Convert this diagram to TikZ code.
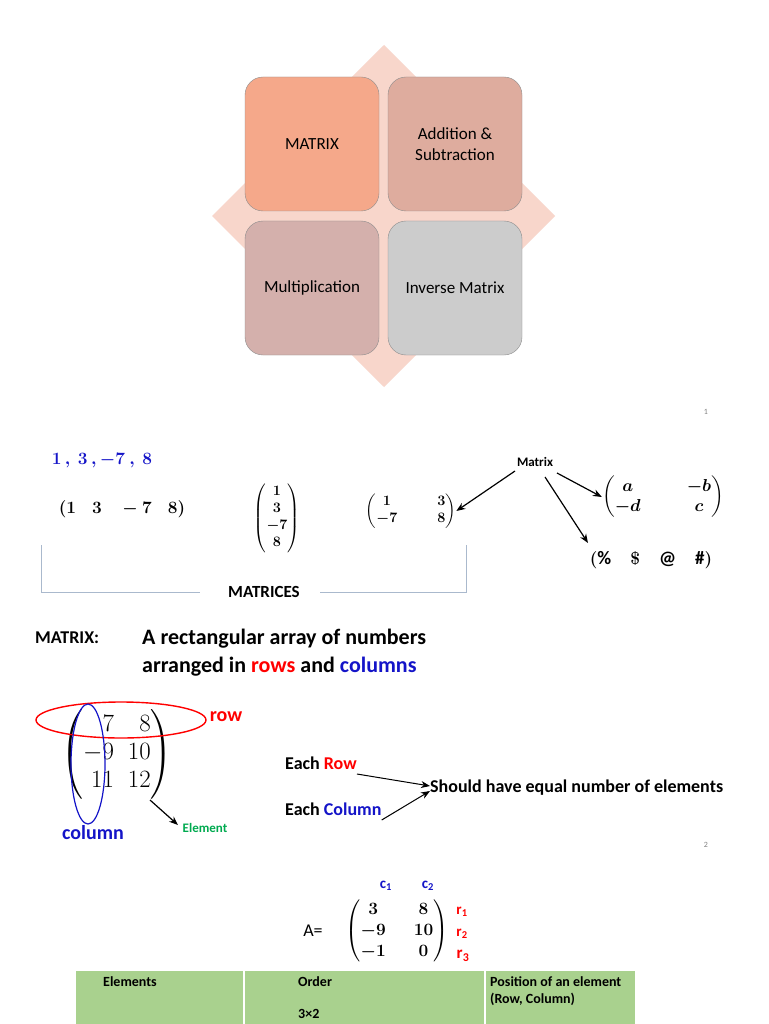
\documentclass[tikz,border=0pt]{standalone}
\usepackage{amsmath}
\usepackage{fontspec}
\setmainfont{Carlito}
\usetikzlibrary{arrows.meta,shapes.geometric}
\definecolor{dia}{RGB}{248,214,203}
\definecolor{bA}{RGB}{245,168,138}
\definecolor{bB}{RGB}{222,172,158}
\definecolor{bC}{RGB}{212,176,172}
\definecolor{bD}{RGB}{204,204,204}
\definecolor{tgreen}{RGB}{169,209,142}
\definecolor{mblue}{RGB}{20,20,200}
\definecolor{egreen}{RGB}{0,170,80}
\definecolor{brk}{RGB}{170,185,205}
\tikzset{
 tile/.style={draw=black!45,rounded corners=18pt,minimum width=134pt,minimum height=134pt,font=\fontsize{17}{21}\selectfont,align=center,inner sep=0},
 txt/.style={inner sep=0,anchor=base west},
 arr/.style={-{Stealth[length=9pt,width=7pt]},line width=1.2pt},
 cell/.style={fill=tgreen,draw=white,line width=1.5pt},
 pn/.style={font=\fontsize{8}{9}\selectfont,text=black!50,inner sep=0}
}
\begin{document}
\begin{tikzpicture}[x=1pt,y=-1pt]
\useasboundingbox[fill=white] (0,0) rectangle (768,1024);
% diamond
\fill[dia] (384,45) -- (555,216) -- (384,387) -- (212,216) -- cycle;
\node[tile,fill=bA] (t1) at (312,144) {MATRIX};
\node[tile,fill=bB] (t2) at (455,144) {Addition \&\\Subtraction};
\node[tile,fill=bC] (t3) at (312,288) {Multiplication};
\node[tile,fill=bD] (t4) at (455,288) {Inverse Matrix};
\node[pn] (p1) at (706,412) {1};
% section 2
\node[inner sep=0,text=mblue,font=\fontsize{19}{22}\selectfont\boldmath] (seq) at (102,461) {$1\,,\ 3\,,-7\ ,\ 8$};
\node[inner sep=0,font=\fontsize{16}{18}\selectfont\boldmath] (rowv) at (122,509) {$(1\quad 3\quad -7\quad 8)$};
\node[inner sep=0,font=\fontsize{15}{17}\selectfont\boldmath] (colv) at (277,518) {$\begin{pmatrix}1\\3\\-7\\8\end{pmatrix}$};
\node[inner sep=0,font=\fontsize{15}{17}\selectfont\boldmath] (sq) at (411,511) {$\begin{pmatrix}1&\qquad 3\\-7&\qquad 8\end{pmatrix}$};
\node[inner sep=0,font=\fontsize{13}{15}\selectfont\bfseries] (mx) at (535,462) {Matrix};
\node[inner sep=0,font=\fontsize{18}{20}\selectfont\boldmath] (abcd) at (663,497) {$\begin{pmatrix}a&\qquad -b\\-d&\qquad c\end{pmatrix}$};
\node[inner sep=0,font=\fontsize{19}{21}\selectfont\boldmath] (sym) at (651,560) {$(\%\quad \$\quad @\quad \#)$};
\coordinate (m1) at (515,471);
\coordinate (m2) at (557,473);
\coordinate (m3) at (545,477);
\coordinate (s1) at (588,543);
\draw[arr] (m1) -- (sq.east);
\draw[arr] (m2) -- (abcd.west);
\draw[arr] (m3) -- (s1);
\coordinate (b1) at (41,545); \coordinate (b2) at (466,545);
\node[inner sep=0,font=\fontsize{17}{20}\selectfont\bfseries] (mats) at (264,592) {MATRICES};
\draw[brk,line width=1pt] (b1) |- (200,592);
\draw[brk,line width=1pt] (b2) |- (320,592);
% section 3
\node[txt,font=\fontsize{18}{21}\selectfont\bfseries] (def) at (35,643) {MATRIX:};
\node[txt,font=\fontsize{22}{26}\selectfont\bfseries] (l1) at (142,644) {A rectangular array of numbers};
\node[txt,font=\fontsize{22}{26}\selectfont\bfseries] (l2) at (142,672) {arranged in \textcolor{red}{rows} and \textcolor{mblue}{columns}};
\node[inner sep=0,font=\fontsize{26}{28}\selectfont] (big) at (117,754) {$\left(\begin{array}{@{}r@{\hspace{14pt}}r@{}}7&8\\-9&10\\11&12\end{array}\right)$};
\draw[red,line width=1.4pt] (121,720) ellipse [x radius=85,y radius=18];
\draw[mblue,line width=1.2pt] (88,764) ellipse [x radius=17,y radius=60];
\node[inner sep=0,text=red,font=\fontsize{20}{22}\selectfont\bfseries] (rowl) at (226,717) {row};
\node[inner sep=0,text=mblue,font=\fontsize{20}{22}\selectfont\bfseries] (coll) at (93,833) {column};
\node[inner sep=0,text=egreen,font=\fontsize{13}{15}\selectfont\bfseries] (elem) at (205,828) {Element};
\coordinate (e12) at (150,800);
\coordinate (e13) at (178,825);
\draw[arr] (e12) -- (e13);
\node[txt,font=\fontsize{18}{21}\selectfont\bfseries] (er) at (285,769) {Each \textcolor{red}{Row}};
\node[txt,font=\fontsize{18}{21}\selectfont\bfseries] (ec) at (285,815) {Each \textcolor{mblue}{Column}};
\node[txt,font=\fontsize{18}{21}\selectfont\bfseries] (sh) at (430,792) {Should have equal number of elements};
\coordinate (k1) at (430,786);
\coordinate (k2) at (430,791);
\draw[arr,line width=1pt] ([yshift=-5pt]er.base east) -- (k1);
\draw[arr,line width=1pt] ([yshift=-5pt]ec.base east) -- (k2);
\node[pn] (p2) at (706,845) {2};
% section 4
\node[inner sep=0,text=mblue,font=\fontsize{15}{17}\selectfont\bfseries] (c1) at (386,886) {c\textsubscript{1}};
\node[inner sep=0,text=mblue,font=\fontsize{15}{17}\selectfont\bfseries] (c2) at (428,886) {c\textsubscript{2}};
\node[inner sep=0,font=\fontsize{18}{20}\selectfont] (Aeq) at (313,931) {A=};
\node[inner sep=0,font=\fontsize{18}{21}\selectfont\boldmath] (Am) at (397,931) {$\begin{pmatrix}3&\quad 8\\-9&\quad 10\\-1&\quad 0\end{pmatrix}$};
\node[inner sep=0,text=red,font=\fontsize{15}{17}\selectfont\bfseries] (r1) at (462,912) {r\textsubscript{1}};
\node[inner sep=0,text=red,font=\fontsize{15}{17}\selectfont\bfseries] (r2) at (462,934) {r\textsubscript{2}};
\node[inner sep=0,text=red,font=\fontsize{17}{18}\selectfont\bfseries] (r3) at (463,956) {r\textsubscript{3}};
\draw[cell] (75,970) rectangle (244,1030);
\draw[cell] (244,970) rectangle (485,1030);
\draw[cell] (485,970) rectangle (636,1030);
\node[txt,font=\fontsize{14}{16}\selectfont\bfseries] (h1) at (103,986) {Elements};
\node[txt,font=\fontsize{14}{16}\selectfont\bfseries] (h2) at (298,986) {Order};
\node[txt,font=\fontsize{14}{16}\selectfont\bfseries] (o) at (298,1018) {3×2};
\node[txt,font=\fontsize{14}{16}\selectfont\bfseries] (h3) at (490,986) {Position of an element};
\node[txt,font=\fontsize{14}{16}\selectfont\bfseries] (h4) at (490,1003) {(Row, Column)};
\end{tikzpicture}
\end{document}
